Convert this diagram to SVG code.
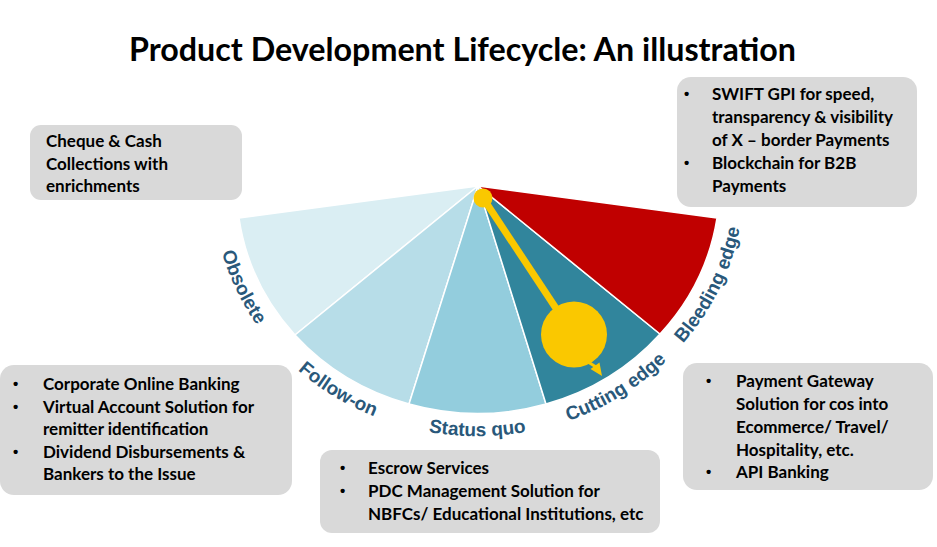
<svg xmlns="http://www.w3.org/2000/svg" width="937" height="547" viewBox="0 0 937 547">
<style>
.title{font-family:Lato,"Open Sans","Liberation Sans",sans-serif;font-weight:bold;font-size:32px;fill:#000}
.box{fill:#D9D9D9}
.bt{font-family:Lato,"Liberation Sans",sans-serif;font-weight:bold;font-size:17px;fill:#000}
.bul{font-family:"Liberation Sans",Arial,sans-serif;font-weight:bold;font-size:15px;fill:#000}
.lbl{font-family:"Liberation Sans",Arial,sans-serif;font-weight:bold;font-size:19px;fill:#29587A}
.wedge{stroke:#FFFFFF;stroke-width:1.5;stroke-linejoin:round}
.yel{fill:#FAC800}
</style>
<defs>
<path id="pObs" d="M215.1,221.2 A265.1,250.8 0 0 0 276.7,349.9"/>
<path id="pFol" d="M276.7,349.9 A265.1,250.8 0 0 0 402.1,425.8"/>
<path id="pSta" d="M402.1,425.8 A265.1,250.8 0 0 0 552.8,425.8"/>
<path id="pCut" d="M552.8,425.8 A265.1,250.8 0 0 0 678.2,348.8"/>
<path id="pBle" d="M678.2,348.8 A265.1,250.8 0 0 0 740.9,221.2"/>
</defs>
<text class="title" x="129" y="61" textLength="667" lengthAdjust="spacingAndGlyphs">Product Development Lifecycle: An illustration</text>

<g id="fan">
<path id="obsolete" class="wedge" fill="#DAEEF3" d="M478,186 L239,218 A241,228 0 0 0 295,335 Z"/>
<path id="follow-on" class="wedge" fill="#B7DDE8" d="M478,186 L295,335 A241,228 0 0 0 409,404 Z"/>
<path id="status-quo" class="wedge" fill="#93CDDD" d="M478,186 L409,404 A241,228 0 0 0 546,404 Z"/>
<path id="cutting-edge" class="wedge" fill="#31859C" d="M478,186 L546,404 A241,228 0 0 0 660,334 Z"/>
<path id="bleeding-edge" class="wedge" fill="#C00000" d="M478,186 L660,334 A241,228 0 0 0 717,218 Z"/>
</g>

<g id="labels">
<text class="lbl"><textPath href="#pObs" startOffset="50%" text-anchor="middle">Obsolete</textPath></text>
<text class="lbl"><textPath href="#pFol" startOffset="50%" text-anchor="middle">Follow-on</textPath></text>
<text class="lbl"><textPath href="#pSta" startOffset="50%" text-anchor="middle">Status quo</textPath></text>
<text class="lbl"><textPath href="#pCut" startOffset="50%" text-anchor="middle">Cutting edge</textPath></text>
<text class="lbl"><textPath href="#pBle" startOffset="50%" text-anchor="middle">Bleeding edge</textPath></text>
</g>

<g id="pointer">
<line x1="483" y1="198" x2="573" y2="334" stroke="#FAC800" stroke-width="7"/>
<circle class="yel" cx="483" cy="198" r="9.5"/>
<circle class="yel" cx="574" cy="334.5" r="33"/>
<line x1="585" y1="360" x2="596" y2="367" stroke="#FAC800" stroke-width="3"/>
<polygon class="yel" points="602,376 599.5,362.5 590.5,369"/>
</g>

<g id="box-obsolete">
<rect class="box" x="30" y="125" width="212" height="75" rx="11"/>
<text class="bt" x="46" y="147">Cheque &amp; Cash</text>
<text class="bt" x="46" y="170">Collections with</text>
<text class="bt" x="46" y="192">enrichments</text>
</g>

<g id="box-bleeding">
<rect class="box" x="677" y="77" width="240" height="130" rx="14"/>
<text class="bul" x="684" y="99">•</text>
<text class="bt" x="712" y="100">SWIFT GPI for speed,</text>
<text class="bt" x="712" y="123">transparency &amp; visibility</text>
<text class="bt" x="712" y="146">of X – border Payments</text>
<text class="bul" x="684" y="168">•</text>
<text class="bt" x="712" y="169">Blockchain for B2B</text>
<text class="bt" x="712" y="192">Payments</text>
</g>

<g id="box-follow-on">
<rect class="box" x="0" y="365" width="292" height="130" rx="14"/>
<text class="bul" x="13" y="389">•</text>
<text class="bt" x="43" y="390">Corporate Online  Banking</text>
<text class="bul" x="13" y="412">•</text>
<text class="bt" x="43" y="413">Virtual Account Solution for</text>
<text class="bt" x="43" y="435">remitter identification</text>
<text class="bul" x="13" y="457">•</text>
<text class="bt" x="43" y="458">Dividend Disbursements &amp;</text>
<text class="bt" x="43" y="480">Bankers to the Issue</text>
</g>

<g id="box-status-quo">
<rect class="box" x="320" y="450" width="340" height="83" rx="12"/>
<text class="bul" x="340" y="473">•</text>
<text class="bt" x="368" y="474">Escrow Services</text>
<text class="bul" x="340" y="496">•</text>
<text class="bt" x="368" y="497">PDC Management Solution for</text>
<text class="bt" x="368" y="520">NBFCs/ Educational Institutions, etc</text>
</g>

<g id="box-cutting-edge">
<rect class="box" x="683" y="363" width="250" height="127" rx="14"/>
<text class="bul" x="706" y="386">•</text>
<text class="bt" x="736" y="387">Payment Gateway</text>
<text class="bt" x="736" y="410">Solution for cos into</text>
<text class="bt" x="736" y="433">Ecommerce/ Travel/</text>
<text class="bt" x="736" y="456">Hospitality, etc.</text>
<text class="bul" x="706" y="477">•</text>
<text class="bt" x="736" y="478">API Banking</text>
</g>
</svg>
